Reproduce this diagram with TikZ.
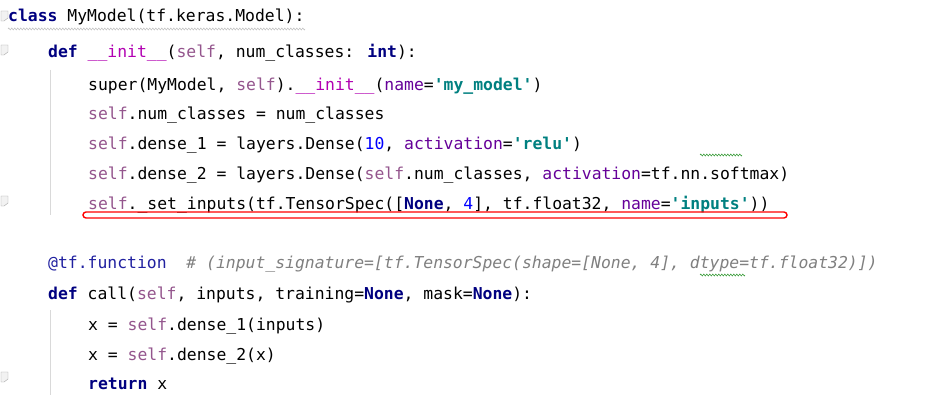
\documentclass[tikz,border=0pt]{standalone}
\usepackage{fontspec}
\newfontfamily\code{DejaVu Sans Mono}
\usetikzlibrary{decorations.pathmorphing}
\definecolor{kw}{HTML}{000080}
\definecolor{slf}{HTML}{94558D}
\definecolor{mag}{HTML}{B200B2}
\definecolor{str}{HTML}{008080}
\definecolor{kwarg}{HTML}{660099}
\definecolor{num}{HTML}{0000FF}
\definecolor{cmt}{HTML}{808080}
\definecolor{deco}{HTML}{2020A0}
\newcommand{\K}[1]{\textcolor{kw}{\bfseries #1}}
\newcommand{\Sf}{\textcolor{slf}{self}}
\newcommand{\Ini}{\textcolor{mag}{\_\_init\_\_}}
\newcommand{\Str}[1]{\textcolor{str}{\bfseries '#1'}}
\newcommand{\Ka}[1]{\textcolor{kwarg}{#1}}
\newcommand{\Nm}[1]{\textcolor{num}{#1}}
\begin{document}
\begin{tikzpicture}[x=1pt,y=-1pt,
  ln/.style={anchor=base west,inner sep=0pt,font=\code\fontsize{16.4}{18}\selectfont},
  guide/.style={draw=black!15,line width=0.8pt},
  wavy/.style={decorate,decoration={zigzag,amplitude=1pt,segment length=3pt}},
  fold/.style={draw=black!35,fill=black!5}]
\useasboundingbox[fill=white] (0,0) rectangle (948,412);
% indent guides
\draw[guide] (50,70) -- (50,215);
\draw[guide] (50,310) -- (50,395);
% fold markers
\foreach \yy in {11,45,196,372}{\draw[fold] (1,\yy) -- (8,\yy) -- (8,\yy+7) -- (4,\yy+10) -- (1,\yy+10) -- cycle;}
\node[ln] (l1) at (8,22) {\K{class} MyModel(tf.keras.Model):};
\node[ln] (l2) at (48,58) {\K{def} \Ini(\Sf, num\_classes: \K{int}):};
\node[ln] (l3) at (88,90) {super(MyModel, \Sf).\Ini(\Ka{name}=\Str{my\_model})};
\node[ln] (l4) at (88,119) {\Sf.num\_classes = num\_classes};
\node[ln] (l5) at (88,149) {\Sf.dense\_1 = layers.Dense(\Nm{10}, \Ka{activation}=\Str{relu})};
\node[ln] (l6) at (88,179) {\Sf.dense\_2 = layers.Dense(\Sf.num\_classes, \Ka{activation}=tf.nn.softmax)};
\node[ln] (l7) at (88,209) {\Sf.\_set\_inputs(tf.TensorSpec([\K{None}, \Nm{4}], tf.float32, \Ka{name}=\Str{inputs}))};
\node[ln] (l8) at (48,268) {\textcolor{deco}{@tf.function}\ \ \textcolor{cmt}{\itshape \# (input\_signature=[tf.TensorSpec(shape=[None, 4], dtype=tf.float32)])}};
\node[ln] (l9) at (48,299) {\K{def} call(\Sf, inputs, training=\K{None}, mask=\K{None}):};
\node[ln] (l10) at (88,330) {x = \Sf.dense\_1(inputs)};
\node[ln] (l11) at (88,360) {x = \Sf.dense\_2(x)};
\node[ln] (l12) at (88,389) {\K{return} x};
% red underline
\draw[red,line width=1.4pt,rounded corners=3pt] (83,212) rectangle (787,218);
% wavy underlines
\draw[black!30,wavy] (8,29) -- (305,29);
\draw[green!50!black,wavy] (700,155) -- (742,155);
\draw[green!50!black,wavy] (700,275) -- (745,275);
\end{tikzpicture}
\end{document}
